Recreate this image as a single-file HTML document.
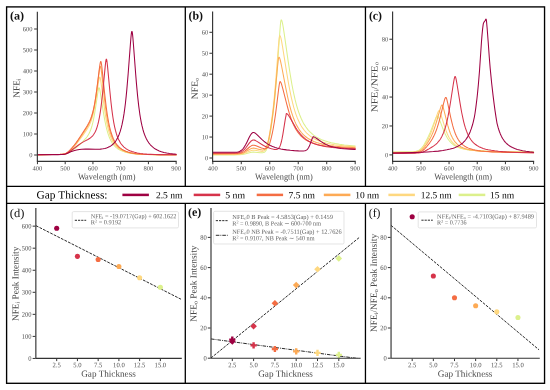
<!DOCTYPE html>
<html lang="en"><head><meta charset="utf-8"><title>NFE vs gap thickness</title>
<style>html,body{margin:0;padding:0;background:#fff}svg{display:block}text{font-family:'Liberation Serif', 'DejaVu Serif', serif}</style></head>
<body>
<svg width="550" height="390" viewBox="0 0 550 390" font-family="Liberation Serif, DejaVu Serif, serif">
<rect x="0" y="0" width="550" height="390" fill="#fff"/>
<rect x="6.6" y="6.9" width="537.95" height="376.4" fill="none" stroke="#000" stroke-width="1.35"/>
<line x1="6.6" y1="186.4" x2="544.55" y2="186.4" stroke="#000" stroke-width="1.3"/>
<line x1="6.6" y1="203.4" x2="544.55" y2="203.4" stroke="#000" stroke-width="1.3"/>
<line x1="185.3" y1="6.9" x2="185.3" y2="186.4" stroke="#000" stroke-width="1.3"/>
<line x1="185.3" y1="203.4" x2="185.3" y2="383.3" stroke="#000" stroke-width="1.3"/>
<line x1="365.45" y1="6.9" x2="365.45" y2="186.4" stroke="#000" stroke-width="1.3"/>
<line x1="365.45" y1="203.4" x2="365.45" y2="383.3" stroke="#000" stroke-width="1.3"/>
<text x="36.6" y="198.5" font-size="11.2" fill="#000" textLength="70.9" lengthAdjust="spacingAndGlyphs" transform="rotate(0.04 36.6 198.5)">Gap Thickness:</text>
<line x1="122.4" y1="194.9" x2="148.9" y2="194.9" stroke="#9e0142" stroke-width="2.5"/>
<text x="155.9" y="198.3" font-size="9.5" fill="#000" textLength="26.5" lengthAdjust="spacingAndGlyphs" transform="rotate(0.04 155.9 198.3)">2.5 nm</text>
<line x1="193.7" y1="194.9" x2="220.2" y2="194.9" stroke="#d6334a" stroke-width="2.5"/>
<text x="225.2" y="198.3" font-size="9.5" fill="#000" textLength="19.8" lengthAdjust="spacingAndGlyphs" transform="rotate(0.04 225.2 198.3)">5 nm</text>
<line x1="256.7" y1="194.9" x2="283.1" y2="194.9" stroke="#f46d43" stroke-width="2.5"/>
<text x="288.5" y="198.3" font-size="9.5" fill="#000" textLength="26.5" lengthAdjust="spacingAndGlyphs" transform="rotate(0.04 288.5 198.3)">7.5 nm</text>
<line x1="323.8" y1="194.9" x2="350.4" y2="194.9" stroke="#fdaa55" stroke-width="2.5"/>
<text x="355.2" y="198.3" font-size="9.5" fill="#000" textLength="24" lengthAdjust="spacingAndGlyphs" transform="rotate(0.04 355.2 198.3)">10 nm</text>
<line x1="388.4" y1="194.9" x2="414.9" y2="194.9" stroke="#fed880" stroke-width="2.5"/>
<text x="420.8" y="198.3" font-size="9.5" fill="#000" textLength="30.8" lengthAdjust="spacingAndGlyphs" transform="rotate(0.04 420.8 198.3)">12.5 nm</text>
<line x1="458.7" y1="194.9" x2="485.3" y2="194.9" stroke="#dcf08c" stroke-width="2.5"/>
<text x="490" y="198.3" font-size="9.5" fill="#000" textLength="24.2" lengthAdjust="spacingAndGlyphs" transform="rotate(0.04 490 198.3)">15 nm</text>
<text x="9.9" y="19.6" font-size="12" fill="#111" font-weight="bold" textLength="14.2" lengthAdjust="spacingAndGlyphs" transform="rotate(0.04 9.9 19.6)">(a)</text>
<text x="188.5" y="19.6" font-size="12" fill="#111" font-weight="bold" textLength="14.5" lengthAdjust="spacingAndGlyphs" transform="rotate(0.04 188.5 19.6)">(b)</text>
<text x="368.9" y="19.6" font-size="12" fill="#111" font-weight="bold" textLength="13.1" lengthAdjust="spacingAndGlyphs" transform="rotate(0.04 368.9 19.6)">(c)</text>
<text x="9.8" y="217" font-size="12" fill="#111" textLength="14.6" lengthAdjust="spacingAndGlyphs" transform="rotate(0.04 9.8 217)">(d)</text>
<text x="188" y="215.9" font-size="12" fill="#111" font-weight="bold" textLength="13.4" lengthAdjust="spacingAndGlyphs" transform="rotate(0.04 188 215.9)">(e)</text>
<text x="368.8" y="216.7" font-size="12" fill="#111" textLength="11.7" lengthAdjust="spacingAndGlyphs" transform="rotate(0.04 368.8 216.7)">(f)</text>
<path d="M37.45 154.68 L52.98 154.59 L60.75 154.46 L62.69 154.37 L64.08 154.22 L65.19 154.03 L66.30 153.73 L67.13 153.42 L67.96 153.05 L69.91 151.99 L72.68 150.22 L75.18 148.42 L77.40 146.63 L79.89 144.40 L82.39 142.01 L84.61 139.71 L86.00 138.13 L87.10 136.70 L88.21 135.03 L89.05 133.55 L89.88 131.81 L90.71 129.76 L91.54 127.31 L92.10 125.42 L92.93 122.13 L93.48 119.60 L94.59 113.70 L95.43 108.58 L97.65 93.63 L98.20 90.22 L98.48 88.86 L98.76 87.96 L99.03 87.70 L99.31 88.08 L99.59 88.94 L100.14 91.67 L103.19 111.10 L104.03 116.07 L104.86 120.62 L105.97 125.92 L106.52 128.25 L107.35 131.37 L108.19 134.09 L109.02 136.44 L109.85 138.47 L110.96 140.78 L112.07 142.71 L113.18 144.32 L114.57 145.98 L115.95 147.33 L117.34 148.45 L119.01 149.54 L120.95 150.56 L122.89 151.36 L125.11 152.09 L127.60 152.73 L130.38 153.27 L133.15 153.66 L135.93 153.96 L139.26 154.21 L142.86 154.40 L147.30 154.55 L158.12 154.71 L176.15 154.77" fill="none" stroke="#dcf08c" stroke-width="1.05" stroke-linejoin="round" stroke-linecap="round"/>
<path d="M37.45 154.65 L51.60 154.55 L59.64 154.43 L62.69 154.26 L63.80 154.11 L64.91 153.87 L66.02 153.48 L67.13 152.91 L68.24 152.15 L69.63 151.01 L71.57 149.20 L73.51 147.22 L75.18 145.38 L76.84 143.39 L79.06 140.52 L82.11 136.34 L85.44 131.63 L87.38 128.70 L88.49 126.83 L89.60 124.65 L90.43 122.74 L91.27 120.52 L92.10 117.92 L92.93 114.87 L93.76 111.29 L94.32 108.59 L94.87 105.63 L95.70 100.73 L98.76 80.78 L99.31 78.00 L99.59 77.21 L99.86 77.06 L100.14 77.58 L100.42 78.71 L100.97 82.15 L104.03 105.64 L105.41 115.08 L106.52 121.42 L107.08 124.20 L107.91 127.89 L108.74 131.08 L109.57 133.84 L110.41 136.23 L111.52 138.93 L112.63 141.17 L113.73 143.05 L115.12 144.99 L116.51 146.56 L117.90 147.86 L119.56 149.11 L121.22 150.12 L123.17 151.06 L125.39 151.90 L127.60 152.54 L130.10 153.09 L132.88 153.54 L135.65 153.88 L138.98 154.16 L142.58 154.37 L146.75 154.52 L157.56 154.70 L176.15 154.77" fill="none" stroke="#fed880" stroke-width="1.05" stroke-linejoin="round" stroke-linecap="round"/>
<path d="M37.45 154.63 L52.15 154.52 L59.92 154.38 L61.58 154.30 L62.97 154.17 L64.08 153.98 L65.19 153.68 L66.02 153.34 L66.58 153.05 L67.69 152.32 L69.07 151.16 L70.46 149.81 L72.40 147.76 L74.34 145.53 L76.01 143.44 L77.95 140.82 L80.45 137.21 L84.61 130.97 L86.55 127.96 L87.94 125.66 L89.05 123.59 L90.16 121.13 L90.99 118.97 L91.82 116.44 L92.65 113.47 L93.48 109.98 L94.32 105.88 L94.87 102.77 L95.43 99.37 L96.26 93.73 L99.31 70.70 L99.86 67.48 L100.14 66.57 L100.42 66.38 L100.70 66.99 L100.97 68.32 L101.53 72.38 L104.30 97.42 L105.69 108.65 L106.80 116.21 L107.35 119.50 L108.19 123.87 L109.02 127.63 L109.85 130.87 L110.68 133.66 L111.79 136.79 L112.90 139.38 L114.01 141.53 L114.57 142.47 L115.40 143.74 L116.79 145.53 L118.17 146.99 L119.01 147.74 L119.84 148.41 L121.50 149.55 L123.44 150.60 L125.66 151.53 L127.88 152.25 L130.38 152.87 L133.15 153.38 L135.93 153.76 L139.26 154.08 L142.86 154.31 L147.02 154.48 L157.84 154.69 L176.15 154.77" fill="none" stroke="#fdaa55" stroke-width="1.05" stroke-linejoin="round" stroke-linecap="round"/>
<path d="M37.45 154.62 L52.15 154.51 L59.92 154.36 L61.58 154.28 L62.97 154.14 L64.08 153.95 L65.19 153.63 L66.02 153.28 L66.58 152.97 L67.69 152.21 L69.07 150.98 L70.46 149.57 L72.40 147.40 L74.34 145.05 L76.01 142.85 L77.95 140.09 L80.17 136.74 L86.00 127.72 L87.38 125.50 L88.49 123.59 L89.60 121.39 L90.71 118.79 L91.54 116.47 L92.38 113.76 L93.21 110.56 L94.04 106.79 L94.87 102.36 L95.43 99.01 L95.98 95.35 L96.81 89.29 L99.31 69.17 L99.86 65.05 L100.14 63.32 L100.42 62.05 L100.70 61.45 L100.97 61.67 L101.25 62.72 L101.53 64.44 L101.81 66.61 L104.86 95.58 L106.25 107.26 L107.35 115.07 L107.91 118.46 L108.74 122.97 L109.57 126.84 L110.41 130.17 L111.24 133.03 L112.35 136.25 L113.46 138.91 L114.57 141.13 L115.68 142.98 L117.06 144.90 L118.45 146.46 L119.28 147.26 L120.12 147.97 L121.78 149.19 L123.72 150.31 L124.83 150.84 L125.94 151.30 L128.16 152.07 L130.66 152.73 L133.43 153.28 L136.20 153.68 L139.53 154.02 L143.14 154.27 L147.30 154.46 L152.02 154.59 L158.12 154.68 L176.15 154.77" fill="none" stroke="#f46d43" stroke-width="1.05" stroke-linejoin="round" stroke-linecap="round"/>
<path d="M37.45 154.65 L53.54 154.56 L60.75 154.44 L62.42 154.35 L63.80 154.20 L64.91 153.99 L66.02 153.65 L67.41 153.01 L69.07 151.97 L71.85 149.97 L78.51 145.01 L81.28 143.09 L83.78 141.61 L87.94 139.50 L89.88 138.29 L90.99 137.44 L91.82 136.69 L92.65 135.81 L93.48 134.76 L94.59 133.03 L95.43 131.42 L96.26 129.47 L97.09 127.10 L97.92 124.21 L98.48 121.95 L99.31 117.96 L99.86 114.84 L100.42 111.32 L100.97 107.36 L101.81 100.59 L102.92 90.12 L105.41 64.35 L105.69 61.98 L105.97 60.14 L106.25 59.14 L106.52 59.21 L106.80 60.30 L107.08 62.21 L107.63 67.36 L109.85 91.05 L110.96 101.98 L111.79 109.16 L112.35 113.42 L112.90 117.26 L113.73 122.30 L114.57 126.55 L115.40 130.14 L116.23 133.17 L117.06 135.74 L117.90 137.93 L119.01 140.36 L120.12 142.36 L121.22 144.01 L122.61 145.70 L124.00 147.08 L125.66 148.41 L126.50 148.97 L127.60 149.64 L128.71 150.22 L129.82 150.73 L132.04 151.59 L134.54 152.33 L137.31 152.97 L140.09 153.44 L143.14 153.82 L146.75 154.14 L150.63 154.36 L155.07 154.52 L160.34 154.63 L176.15 154.75" fill="none" stroke="#d6334a" stroke-width="1.05" stroke-linejoin="round" stroke-linecap="round"/>
<path d="M37.45 154.68 L57.98 154.60 L61.03 154.54 L62.97 154.43 L64.64 154.21 L65.47 154.02 L66.30 153.77 L67.69 153.21 L71.29 151.56 L72.40 151.14 L73.79 150.68 L76.56 149.97 L79.34 149.47 L81.83 149.22 L85.44 149.09 L88.49 149.11 L95.15 149.28 L97.92 149.26 L100.42 149.13 L102.92 148.82 L104.86 148.43 L106.52 147.95 L108.19 147.31 L109.85 146.48 L111.24 145.60 L112.63 144.51 L114.01 143.15 L115.12 141.84 L115.95 140.69 L116.51 139.83 L117.34 138.38 L117.90 137.29 L119.01 134.76 L120.12 131.68 L121.22 127.89 L122.06 124.46 L123.17 118.93 L124.00 113.90 L124.83 107.99 L125.39 103.48 L126.22 95.82 L126.77 90.08 L128.16 73.70 L130.38 44.54 L130.93 37.78 L131.21 34.90 L131.49 32.68 L131.77 31.46 L132.04 31.46 L132.32 32.68 L132.60 34.90 L132.88 37.79 L133.43 44.55 L135.65 73.73 L136.48 83.90 L137.59 95.89 L138.70 105.90 L139.81 114.05 L140.37 117.52 L141.20 122.06 L142.03 125.93 L142.86 129.23 L143.69 132.06 L144.53 134.49 L145.36 136.60 L146.47 138.99 L147.58 140.99 L148.96 143.07 L150.35 144.78 L151.18 145.66 L152.02 146.46 L153.68 147.82 L155.34 148.95 L157.29 150.04 L159.23 150.92 L161.45 151.73 L163.94 152.45 L166.72 153.06 L169.49 153.51 L172.54 153.88 L176.15 154.17" fill="none" stroke="#9e0142" stroke-width="1.05" stroke-linejoin="round" stroke-linecap="round"/>
<path d="M212.80 154.86 L234.44 154.85 L237.58 154.80 L239.86 154.70 L241.85 154.52 L243.84 154.21 L245.84 153.76 L250.39 152.51 L251.82 152.25 L252.96 152.14 L253.81 152.13 L254.95 152.19 L260.36 152.77 L261.50 152.82 L262.36 152.80 L263.49 152.60 L264.06 152.39 L264.63 152.06 L265.20 151.57 L265.49 151.25 L266.06 150.42 L266.34 149.89 L266.91 148.59 L267.20 147.80 L267.77 145.92 L268.62 142.35 L269.48 137.96 L270.61 131.18 L271.75 123.61 L272.89 115.22 L273.75 108.17 L274.60 100.25 L275.17 94.39 L276.31 81.15 L277.45 65.98 L279.44 37.21 L280.30 25.83 L280.58 22.86 L280.87 20.79 L281.15 19.90 L281.44 20.00 L281.72 20.46 L282.01 21.25 L282.58 23.64 L283.15 26.77 L284.28 34.10 L288.27 61.82 L289.98 73.04 L291.12 79.93 L291.97 84.74 L292.83 89.23 L293.97 94.73 L295.11 99.67 L296.25 104.10 L297.39 108.07 L298.52 111.61 L299.66 114.76 L301.09 118.24 L302.51 121.27 L303.37 122.89 L304.22 124.39 L305.93 127.05 L307.64 129.33 L308.49 130.34 L309.63 131.59 L311.63 133.49 L312.76 134.45 L313.90 135.33 L316.18 136.87 L318.75 138.32 L321.59 139.65 L324.73 140.85 L327.86 141.84 L331.28 142.73 L335.26 143.58 L339.54 144.31 L344.38 144.97 L349.50 145.53 L355.20 146.03" fill="none" stroke="#dcf08c" stroke-width="1.05" stroke-linejoin="round" stroke-linecap="round"/>
<path d="M212.80 154.44 L234.44 154.42 L237.58 154.36 L239.86 154.20 L242.13 153.87 L244.13 153.36 L246.12 152.64 L250.11 150.93 L251.53 150.49 L252.67 150.29 L253.81 150.24 L254.95 150.34 L259.22 151.09 L260.93 151.32 L262.07 151.36 L262.92 151.27 L263.78 151.00 L264.35 150.66 L264.63 150.43 L265.20 149.81 L265.77 148.93 L266.34 147.74 L266.63 147.01 L267.20 145.25 L268.05 141.87 L268.91 137.68 L269.76 132.82 L270.90 125.55 L271.75 119.53 L272.61 112.88 L273.46 105.45 L274.03 99.99 L275.17 87.68 L276.31 73.71 L278.30 47.79 L278.87 41.10 L279.16 38.38 L279.44 36.48 L279.73 35.62 L280.01 35.72 L280.30 36.15 L280.58 36.88 L280.87 37.88 L281.44 40.46 L282.58 46.89 L286.56 71.86 L288.56 83.61 L289.70 89.72 L290.55 93.96 L291.40 97.91 L292.54 102.73 L293.68 107.04 L294.82 110.89 L295.96 114.32 L297.10 117.38 L298.24 120.10 L299.66 123.09 L301.09 125.68 L302.51 127.93 L304.22 130.26 L305.93 132.25 L306.78 133.14 L307.92 134.22 L309.92 135.88 L312.20 137.48 L313.33 138.17 L314.76 138.96 L317.32 140.18 L320.17 141.31 L323.30 142.33 L326.72 143.23 L330.42 144.02 L334.41 144.72 L338.97 145.35 L343.81 145.89 L349.22 146.37 L355.20 146.79" fill="none" stroke="#fed880" stroke-width="1.05" stroke-linejoin="round" stroke-linecap="round"/>
<path d="M212.80 154.02 L233.88 154.00 L237.01 153.93 L239.29 153.76 L240.43 153.60 L241.56 153.37 L242.70 153.05 L243.84 152.64 L244.70 152.25 L245.84 151.66 L248.97 149.76 L250.11 149.11 L251.25 148.60 L252.39 148.26 L253.53 148.14 L254.67 148.24 L255.80 148.47 L260.36 149.64 L261.50 149.84 L262.64 149.93 L263.49 149.84 L264.35 149.52 L264.92 149.13 L265.20 148.86 L265.77 148.14 L266.34 147.13 L266.63 146.51 L267.20 145.00 L267.77 143.13 L268.62 139.65 L269.19 136.94 L270.04 132.39 L270.90 127.32 L271.75 121.72 L272.61 115.51 L273.18 110.95 L274.32 100.74 L275.17 92.15 L277.16 70.54 L278.02 61.90 L278.30 59.60 L278.59 58.00 L278.87 57.20 L279.16 57.29 L279.44 57.66 L279.73 58.30 L280.01 59.15 L280.58 61.34 L281.72 66.75 L285.71 87.53 L287.42 95.89 L288.56 100.99 L289.41 104.53 L290.27 107.82 L291.40 111.81 L292.54 115.38 L293.68 118.56 L294.82 121.39 L295.96 123.89 L297.10 126.12 L298.52 128.56 L299.95 130.67 L301.37 132.50 L303.08 134.38 L303.94 135.22 L305.08 136.23 L307.07 137.78 L309.06 139.08 L311.34 140.33 L313.90 141.49 L316.47 142.45 L319.32 143.33 L322.45 144.13 L325.87 144.83 L329.57 145.46 L333.84 146.03 L338.40 146.52 L343.52 146.96 L348.93 147.32 L355.20 147.66" fill="none" stroke="#fdaa55" stroke-width="1.05" stroke-linejoin="round" stroke-linecap="round"/>
<path d="M212.80 153.60 L234.44 153.57 L237.58 153.43 L238.72 153.31 L239.86 153.13 L241.00 152.85 L241.85 152.58 L242.99 152.09 L243.84 151.62 L244.70 151.08 L245.84 150.23 L249.25 147.27 L250.39 146.39 L251.25 145.86 L251.82 145.58 L252.67 145.31 L253.24 145.22 L254.10 145.25 L255.24 145.51 L256.66 146.01 L261.50 147.90 L262.92 148.36 L264.06 148.63 L265.20 148.72 L266.06 148.58 L266.63 148.35 L266.91 148.17 L267.48 147.68 L268.05 146.97 L268.34 146.51 L268.91 145.40 L269.48 143.99 L270.04 142.30 L270.61 140.33 L271.47 136.94 L272.32 133.08 L273.18 128.77 L274.32 122.22 L275.46 114.59 L276.31 108.14 L278.59 89.53 L279.16 85.26 L279.44 83.50 L279.73 82.26 L280.01 81.59 L280.30 81.67 L280.58 81.96 L280.87 82.45 L281.15 83.10 L281.72 84.78 L282.86 88.88 L286.56 103.43 L288.27 109.75 L289.41 113.61 L290.27 116.28 L291.12 118.76 L292.26 121.77 L293.40 124.45 L294.54 126.83 L295.68 128.94 L296.82 130.80 L297.96 132.46 L299.38 134.26 L300.80 135.82 L302.23 137.17 L303.94 138.56 L305.64 139.74 L307.64 140.91 L309.63 141.88 L311.91 142.82 L314.47 143.68 L317.04 144.40 L319.88 145.05 L323.02 145.64 L326.44 146.16 L330.14 146.62 L334.12 147.02 L338.68 147.39 L343.52 147.70 L348.93 147.98 L355.20 148.23" fill="none" stroke="#f46d43" stroke-width="1.05" stroke-linejoin="round" stroke-linecap="round"/>
<path d="M212.80 152.97 L230.17 152.97 L234.44 152.92 L236.15 152.85 L237.58 152.71 L238.72 152.53 L239.86 152.24 L241.00 151.82 L241.85 151.38 L242.99 150.63 L243.84 149.91 L244.70 149.06 L245.84 147.75 L249.25 143.17 L250.39 141.81 L251.25 140.98 L251.82 140.55 L252.67 140.13 L253.24 140.00 L253.81 140.00 L254.38 140.11 L254.95 140.31 L255.52 140.59 L256.94 141.41 L261.50 144.28 L263.49 145.44 L266.06 146.76 L268.62 147.83 L270.04 148.33 L271.47 148.75 L272.89 149.10 L274.32 149.36 L275.46 149.47 L276.31 149.45 L277.16 149.28 L277.73 149.04 L278.30 148.66 L278.87 148.08 L279.44 147.25 L279.73 146.72 L280.30 145.39 L280.58 144.58 L281.44 141.50 L282.01 138.91 L282.86 134.31 L285.14 120.14 L285.71 117.01 L285.99 115.86 L286.28 113.51 L286.56 113.53 L286.85 113.63 L287.42 114.05 L287.99 114.68 L288.56 115.47 L289.98 117.75 L294.25 125.11 L295.96 127.92 L297.10 129.68 L298.24 131.32 L300.23 133.89 L301.37 135.20 L302.51 136.38 L303.65 137.46 L304.79 138.44 L305.93 139.32 L307.35 140.31 L308.78 141.18 L310.20 141.95 L311.91 142.77 L313.62 143.47 L315.33 144.09 L317.32 144.71 L319.32 145.25 L321.59 145.78 L323.87 146.23 L326.44 146.66 L329.28 147.06 L332.13 147.40 L338.68 148.00 L346.37 148.49 L355.20 148.88" fill="none" stroke="#d6334a" stroke-width="1.05" stroke-linejoin="round" stroke-linecap="round"/>
<path d="M212.80 152.34 L230.17 152.34 L234.44 152.27 L236.15 152.15 L237.58 151.95 L238.72 151.67 L239.86 151.23 L241.00 150.57 L241.85 149.91 L242.99 148.75 L243.84 147.65 L244.70 146.36 L245.84 144.34 L246.69 142.66 L249.25 137.32 L250.11 135.72 L250.68 134.78 L251.53 133.62 L252.10 133.05 L252.67 132.66 L252.96 132.54 L253.53 132.44 L253.81 132.46 L254.38 132.64 L254.95 132.95 L255.52 133.37 L256.94 134.63 L261.79 139.30 L263.78 141.07 L265.20 142.22 L266.34 143.06 L267.48 143.83 L268.91 144.70 L270.33 145.47 L272.04 146.27 L273.46 146.86 L275.17 147.46 L276.88 147.98 L278.87 148.50 L280.87 148.94 L283.15 149.36 L286.56 149.86 L290.27 150.28 L294.25 150.61 L298.52 150.86 L301.37 150.96 L303.37 150.93 L304.79 150.77 L305.36 150.63 L305.93 150.41 L306.78 149.89 L307.35 149.36 L308.21 148.23 L308.78 147.24 L309.35 146.04 L309.92 144.68 L312.20 138.55 L312.48 137.93 L312.76 137.50 L313.05 136.72 L313.33 136.74 L313.90 136.88 L314.47 137.12 L315.33 137.60 L316.75 138.53 L321.59 141.86 L323.30 142.93 L324.73 143.74 L326.15 144.47 L327.86 145.23 L329.57 145.89 L331.28 146.45 L333.56 147.08 L335.83 147.59 L338.40 148.05 L340.96 148.42 L343.81 148.76 L347.23 149.08 L350.93 149.34 L355.20 149.58" fill="none" stroke="#9e0142" stroke-width="1.05" stroke-linejoin="round" stroke-linecap="round"/>
<path d="M392.70 152.02 L407.35 151.86 L411.30 151.74 L413.83 151.57 L415.81 151.31 L416.65 151.12 L417.50 150.87 L418.34 150.53 L418.91 150.25 L419.75 149.72 L420.32 149.28 L421.16 148.50 L421.73 147.89 L422.29 147.20 L423.13 146.05 L423.98 144.77 L424.83 143.37 L426.52 140.29 L428.49 136.27 L430.18 132.40 L431.59 128.90 L434.69 120.86 L435.82 118.15 L436.38 117.03 L436.66 116.59 L436.94 116.28 L437.22 116.11 L437.51 116.03 L437.79 116.20 L438.07 116.55 L438.35 117.02 L438.92 118.23 L439.76 120.35 L442.86 128.57 L443.99 131.35 L444.83 133.26 L446.24 136.10 L447.09 137.59 L447.93 138.92 L449.06 140.49 L450.19 141.83 L451.31 142.98 L452.72 144.20 L454.13 145.20 L455.54 146.05 L456.95 146.75 L458.64 147.46 L460.61 148.13 L462.59 148.67 L464.84 149.16 L467.38 149.61 L469.91 149.97 L473.01 150.31 L476.39 150.60 L480.06 150.84 L488.79 151.24 L500.07 151.53 L514.44 151.74 L533.60 151.89" fill="none" stroke="#dcf08c" stroke-width="1.05" stroke-linejoin="round" stroke-linecap="round"/>
<path d="M392.70 152.31 L408.20 152.15 L412.14 152.03 L414.68 151.85 L416.65 151.55 L417.50 151.34 L418.34 151.06 L419.19 150.69 L419.75 150.38 L420.60 149.80 L421.16 149.34 L422.01 148.53 L422.85 147.57 L423.70 146.48 L424.83 144.84 L425.95 143.04 L427.08 141.07 L428.21 138.93 L429.05 137.20 L430.74 133.32 L432.43 128.82 L433.84 124.64 L436.66 115.81 L437.79 112.57 L438.35 111.35 L438.63 110.95 L438.92 110.74 L439.20 110.68 L439.48 110.92 L439.76 111.37 L440.04 111.98 L440.61 113.53 L444.27 125.45 L445.96 130.43 L447.37 133.95 L448.21 135.78 L449.06 137.41 L450.19 139.30 L451.31 140.90 L452.44 142.26 L453.57 143.41 L454.98 144.62 L456.39 145.62 L457.80 146.45 L459.49 147.27 L461.46 148.04 L463.43 148.66 L465.69 149.22 L467.94 149.66 L470.48 150.07 L473.58 150.45 L476.68 150.75 L480.34 151.03 L484.57 151.27 L489.08 151.47 L500.07 151.78 L514.44 152.01 L533.60 152.16" fill="none" stroke="#fed880" stroke-width="1.05" stroke-linejoin="round" stroke-linecap="round"/>
<path d="M392.70 152.60 L409.33 152.43 L413.27 152.30 L415.81 152.10 L417.78 151.76 L418.63 151.52 L419.47 151.21 L420.32 150.80 L421.16 150.27 L421.73 149.85 L422.57 149.12 L423.70 147.96 L424.83 146.61 L426.23 144.72 L427.64 142.65 L429.05 140.38 L430.18 138.37 L431.31 136.14 L432.15 134.29 L433.00 132.26 L433.84 130.04 L435.25 125.90 L436.66 121.27 L439.48 111.30 L440.61 107.56 L441.17 106.06 L441.45 105.51 L441.73 105.16 L442.01 105.01 L442.30 105.17 L442.58 105.63 L443.14 107.20 L443.99 110.34 L446.81 121.72 L447.93 125.90 L448.78 128.74 L449.62 131.30 L450.47 133.58 L451.31 135.59 L452.16 137.35 L453.29 139.37 L454.41 141.06 L455.54 142.48 L456.67 143.68 L458.08 144.92 L459.49 145.94 L461.18 146.93 L462.87 147.73 L464.84 148.47 L466.81 149.07 L469.07 149.61 L471.60 150.09 L474.42 150.51 L477.52 150.86 L481.19 151.18 L485.13 151.45 L489.64 151.67 L500.35 152.02 L514.44 152.27 L533.60 152.44" fill="none" stroke="#fdaa55" stroke-width="1.05" stroke-linejoin="round" stroke-linecap="round"/>
<path d="M392.70 153.03 L403.97 152.95 L411.02 152.85 L414.96 152.71 L417.50 152.47 L418.63 152.28 L419.75 152.00 L420.60 151.70 L421.44 151.32 L422.29 150.83 L423.13 150.23 L423.98 149.53 L425.11 148.43 L426.80 146.53 L428.49 144.44 L429.90 142.56 L431.31 140.50 L432.43 138.67 L433.56 136.61 L434.69 134.27 L435.53 132.30 L436.38 130.11 L437.22 127.70 L438.63 123.13 L440.32 116.82 L443.42 104.09 L444.27 100.80 L444.83 98.93 L445.11 98.20 L445.40 97.67 L445.68 97.40 L445.96 97.40 L446.24 97.76 L446.52 98.45 L446.81 99.38 L447.65 102.94 L450.75 117.52 L451.88 122.36 L452.72 125.63 L453.57 128.56 L454.41 131.17 L455.26 133.47 L456.11 135.49 L457.23 137.80 L458.36 139.74 L459.49 141.36 L460.61 142.74 L462.02 144.16 L463.43 145.33 L464.84 146.29 L466.53 147.24 L468.50 148.13 L470.48 148.84 L472.73 149.48 L475.27 150.05 L477.80 150.50 L480.90 150.93 L484.28 151.29 L487.95 151.59 L492.18 151.86 L496.97 152.09 L502.60 152.29 L515.85 152.58 L533.60 152.79" fill="none" stroke="#f46d43" stroke-width="1.05" stroke-linejoin="round" stroke-linecap="round"/>
<path d="M392.70 153.35 L407.92 153.28 L414.96 153.17 L416.93 153.09 L418.63 152.96 L420.03 152.78 L421.44 152.49 L423.13 151.96 L423.98 151.61 L425.11 151.07 L428.21 149.33 L432.43 146.81 L434.12 145.66 L435.82 144.33 L437.22 143.01 L438.63 141.44 L439.76 139.95 L440.89 138.20 L442.01 136.14 L442.86 134.34 L443.71 132.29 L444.55 129.96 L445.40 127.29 L446.24 124.25 L447.09 120.80 L447.93 116.91 L449.34 109.40 L450.75 100.78 L453.29 84.23 L454.13 79.32 L454.41 78.04 L454.70 77.10 L454.98 76.59 L455.26 76.59 L455.54 77.06 L455.82 77.94 L456.39 80.57 L457.23 85.52 L460.05 103.19 L460.90 108.15 L461.74 112.74 L463.15 119.48 L463.71 121.84 L464.56 125.05 L465.40 127.89 L466.53 131.15 L467.38 133.26 L468.50 135.69 L469.63 137.74 L470.76 139.48 L472.17 141.31 L473.58 142.82 L475.27 144.30 L476.96 145.51 L478.93 146.65 L480.90 147.56 L483.16 148.41 L485.69 149.16 L488.23 149.76 L491.33 150.34 L494.71 150.83 L498.38 151.24 L502.60 151.61 L507.39 151.92 L512.75 152.19 L518.66 152.41 L533.60 152.77" fill="none" stroke="#d6334a" stroke-width="1.05" stroke-linejoin="round" stroke-linecap="round"/>
<path d="M392.70 153.06 L403.41 152.87 L412.71 152.64 L420.60 152.35 L427.36 152.01 L433.28 151.59 L438.35 151.11 L442.86 150.53 L446.81 149.85 L450.19 149.09 L453.29 148.17 L454.70 147.67 L456.11 147.09 L457.51 146.43 L458.64 145.83 L459.77 145.16 L460.90 144.40 L462.02 143.53 L462.87 142.81 L464.00 141.71 L464.84 140.79 L465.69 139.76 L466.53 138.61 L467.94 136.36 L469.07 134.21 L470.19 131.67 L471.32 128.64 L472.45 125.02 L473.29 121.83 L474.42 116.80 L474.99 113.48 L475.83 107.62 L476.96 98.51 L477.52 93.34 L478.37 84.53 L479.49 70.99 L481.47 41.73 L482.03 34.85 L482.59 29.10 L483.16 24.64 L483.44 23.31 L483.72 22.64 L484.00 22.14 L484.85 21.00 L485.69 19.46 L485.98 19.16 L486.26 19.45 L486.54 21.60 L487.10 27.71 L488.23 42.54 L489.36 58.22 L490.20 68.38 L491.61 82.68 L493.02 95.11 L494.15 104.07 L494.99 110.31 L496.12 117.92 L496.97 123.02 L498.09 127.38 L498.66 129.26 L499.50 131.76 L500.35 133.92 L501.47 136.38 L502.60 138.44 L504.01 140.57 L505.42 142.31 L506.83 143.75 L508.52 145.17 L509.37 145.78 L510.49 146.50 L512.47 147.56 L514.72 148.54 L517.26 149.40 L519.79 150.09 L522.61 150.70 L525.99 151.27 L529.65 151.76 L533.60 152.16" fill="none" stroke="#9e0142" stroke-width="1.05" stroke-linejoin="round" stroke-linecap="round"/>
<path d="M37.35 12.3 V161.4 H176.15" fill="none" stroke="#333333" stroke-width="1.15" stroke-linecap="square"/>
<line x1="34.15" y1="155" x2="36.95" y2="155" stroke="#333333" stroke-width="1.0"/>
<text x="32.55" y="157.3" font-size="6.5" fill="#505050" text-anchor="end" textLength="3.27" lengthAdjust="spacingAndGlyphs" transform="rotate(0.04 32.55 157.3)">0</text>
<line x1="34.15" y1="134" x2="36.95" y2="134" stroke="#333333" stroke-width="1.0"/>
<text x="32.55" y="136.3" font-size="6.5" fill="#505050" text-anchor="end" textLength="9.81" lengthAdjust="spacingAndGlyphs" transform="rotate(0.04 32.55 136.3)">100</text>
<line x1="34.15" y1="113" x2="36.95" y2="113" stroke="#333333" stroke-width="1.0"/>
<text x="32.55" y="115.3" font-size="6.5" fill="#505050" text-anchor="end" textLength="9.81" lengthAdjust="spacingAndGlyphs" transform="rotate(0.04 32.55 115.3)">200</text>
<line x1="34.15" y1="92" x2="36.95" y2="92" stroke="#333333" stroke-width="1.0"/>
<text x="32.55" y="94.3" font-size="6.5" fill="#505050" text-anchor="end" textLength="9.81" lengthAdjust="spacingAndGlyphs" transform="rotate(0.04 32.55 94.3)">300</text>
<line x1="34.15" y1="71" x2="36.95" y2="71" stroke="#333333" stroke-width="1.0"/>
<text x="32.55" y="73.3" font-size="6.5" fill="#505050" text-anchor="end" textLength="9.81" lengthAdjust="spacingAndGlyphs" transform="rotate(0.04 32.55 73.3)">400</text>
<line x1="34.15" y1="50" x2="36.95" y2="50" stroke="#333333" stroke-width="1.0"/>
<text x="32.55" y="52.3" font-size="6.5" fill="#505050" text-anchor="end" textLength="9.81" lengthAdjust="spacingAndGlyphs" transform="rotate(0.04 32.55 52.3)">500</text>
<line x1="34.15" y1="29" x2="36.95" y2="29" stroke="#333333" stroke-width="1.0"/>
<text x="32.55" y="31.3" font-size="6.5" fill="#505050" text-anchor="end" textLength="9.81" lengthAdjust="spacingAndGlyphs" transform="rotate(0.04 32.55 31.3)">600</text>
<line x1="37.45" y1="161.8" x2="37.45" y2="164.2" stroke="#333333" stroke-width="1.0"/>
<text x="37.45" y="170.4" font-size="6.5" fill="#505050" text-anchor="middle" textLength="9.9" lengthAdjust="spacingAndGlyphs" transform="rotate(0.04 37.45 170.4)">400</text>
<line x1="65.19" y1="161.8" x2="65.19" y2="164.2" stroke="#333333" stroke-width="1.0"/>
<text x="65.19" y="170.4" font-size="6.5" fill="#505050" text-anchor="middle" textLength="9.9" lengthAdjust="spacingAndGlyphs" transform="rotate(0.04 65.19 170.4)">500</text>
<line x1="92.93" y1="161.8" x2="92.93" y2="164.2" stroke="#333333" stroke-width="1.0"/>
<text x="92.93" y="170.4" font-size="6.5" fill="#505050" text-anchor="middle" textLength="9.9" lengthAdjust="spacingAndGlyphs" transform="rotate(0.04 92.93 170.4)">600</text>
<line x1="120.67" y1="161.8" x2="120.67" y2="164.2" stroke="#333333" stroke-width="1.0"/>
<text x="120.67" y="170.4" font-size="6.5" fill="#505050" text-anchor="middle" textLength="9.9" lengthAdjust="spacingAndGlyphs" transform="rotate(0.04 120.67 170.4)">700</text>
<line x1="148.41" y1="161.8" x2="148.41" y2="164.2" stroke="#333333" stroke-width="1.0"/>
<text x="148.41" y="170.4" font-size="6.5" fill="#505050" text-anchor="middle" textLength="9.9" lengthAdjust="spacingAndGlyphs" transform="rotate(0.04 148.41 170.4)">800</text>
<line x1="176.15" y1="161.8" x2="176.15" y2="164.2" stroke="#333333" stroke-width="1.0"/>
<text x="176.15" y="170.4" font-size="6.5" fill="#505050" text-anchor="middle" textLength="9.9" lengthAdjust="spacingAndGlyphs" transform="rotate(0.04 176.15 170.4)">900</text>
<path d="M212.6 12 V161.4 H355.2" fill="none" stroke="#333333" stroke-width="1.15" stroke-linecap="square"/>
<line x1="209.4" y1="158" x2="212.2" y2="158" stroke="#333333" stroke-width="1.0"/>
<text x="208.3" y="160.3" font-size="6.5" fill="#505050" text-anchor="end" textLength="3.27" lengthAdjust="spacingAndGlyphs" transform="rotate(0.04 208.3 160.3)">0</text>
<line x1="209.4" y1="137.05" x2="212.2" y2="137.05" stroke="#333333" stroke-width="1.0"/>
<text x="208.3" y="139.35" font-size="6.5" fill="#505050" text-anchor="end" textLength="6.54" lengthAdjust="spacingAndGlyphs" transform="rotate(0.04 208.3 139.35)">10</text>
<line x1="209.4" y1="116.1" x2="212.2" y2="116.1" stroke="#333333" stroke-width="1.0"/>
<text x="208.3" y="118.4" font-size="6.5" fill="#505050" text-anchor="end" textLength="6.54" lengthAdjust="spacingAndGlyphs" transform="rotate(0.04 208.3 118.4)">20</text>
<line x1="209.4" y1="95.15" x2="212.2" y2="95.15" stroke="#333333" stroke-width="1.0"/>
<text x="208.3" y="97.45" font-size="6.5" fill="#505050" text-anchor="end" textLength="6.54" lengthAdjust="spacingAndGlyphs" transform="rotate(0.04 208.3 97.45)">30</text>
<line x1="209.4" y1="74.2" x2="212.2" y2="74.2" stroke="#333333" stroke-width="1.0"/>
<text x="208.3" y="76.5" font-size="6.5" fill="#505050" text-anchor="end" textLength="6.54" lengthAdjust="spacingAndGlyphs" transform="rotate(0.04 208.3 76.5)">40</text>
<line x1="209.4" y1="53.25" x2="212.2" y2="53.25" stroke="#333333" stroke-width="1.0"/>
<text x="208.3" y="55.55" font-size="6.5" fill="#505050" text-anchor="end" textLength="6.54" lengthAdjust="spacingAndGlyphs" transform="rotate(0.04 208.3 55.55)">50</text>
<line x1="209.4" y1="32.3" x2="212.2" y2="32.3" stroke="#333333" stroke-width="1.0"/>
<text x="208.3" y="34.6" font-size="6.5" fill="#505050" text-anchor="end" textLength="6.54" lengthAdjust="spacingAndGlyphs" transform="rotate(0.04 208.3 34.6)">60</text>
<line x1="212.8" y1="161.8" x2="212.8" y2="164.2" stroke="#333333" stroke-width="1.0"/>
<text x="212.8" y="170.4" font-size="6.5" fill="#505050" text-anchor="middle" textLength="9.9" lengthAdjust="spacingAndGlyphs" transform="rotate(0.04 212.8 170.4)">400</text>
<line x1="241.28" y1="161.8" x2="241.28" y2="164.2" stroke="#333333" stroke-width="1.0"/>
<text x="241.28" y="170.4" font-size="6.5" fill="#505050" text-anchor="middle" textLength="9.9" lengthAdjust="spacingAndGlyphs" transform="rotate(0.04 241.28 170.4)">500</text>
<line x1="269.76" y1="161.8" x2="269.76" y2="164.2" stroke="#333333" stroke-width="1.0"/>
<text x="269.76" y="170.4" font-size="6.5" fill="#505050" text-anchor="middle" textLength="9.9" lengthAdjust="spacingAndGlyphs" transform="rotate(0.04 269.76 170.4)">600</text>
<line x1="298.24" y1="161.8" x2="298.24" y2="164.2" stroke="#333333" stroke-width="1.0"/>
<text x="298.24" y="170.4" font-size="6.5" fill="#505050" text-anchor="middle" textLength="9.9" lengthAdjust="spacingAndGlyphs" transform="rotate(0.04 298.24 170.4)">700</text>
<line x1="326.72" y1="161.8" x2="326.72" y2="164.2" stroke="#333333" stroke-width="1.0"/>
<text x="326.72" y="170.4" font-size="6.5" fill="#505050" text-anchor="middle" textLength="9.9" lengthAdjust="spacingAndGlyphs" transform="rotate(0.04 326.72 170.4)">800</text>
<line x1="355.2" y1="161.8" x2="355.2" y2="164.2" stroke="#333333" stroke-width="1.0"/>
<text x="355.2" y="170.4" font-size="6.5" fill="#505050" text-anchor="middle" textLength="9.9" lengthAdjust="spacingAndGlyphs" transform="rotate(0.04 355.2 170.4)">900</text>
<path d="M392.6 12 V161.4 H533.6" fill="none" stroke="#333333" stroke-width="1.15" stroke-linecap="square"/>
<line x1="389.4" y1="154.9" x2="392.2" y2="154.9" stroke="#333333" stroke-width="1.0"/>
<text x="388.3" y="157.2" font-size="6.5" fill="#505050" text-anchor="end" textLength="3.27" lengthAdjust="spacingAndGlyphs" transform="rotate(0.04 388.3 157.2)">0</text>
<line x1="389.4" y1="125.98" x2="392.2" y2="125.98" stroke="#333333" stroke-width="1.0"/>
<text x="388.3" y="128.28" font-size="6.5" fill="#505050" text-anchor="end" textLength="6.54" lengthAdjust="spacingAndGlyphs" transform="rotate(0.04 388.3 128.28)">20</text>
<line x1="389.4" y1="97.06" x2="392.2" y2="97.06" stroke="#333333" stroke-width="1.0"/>
<text x="388.3" y="99.36" font-size="6.5" fill="#505050" text-anchor="end" textLength="6.54" lengthAdjust="spacingAndGlyphs" transform="rotate(0.04 388.3 99.36)">40</text>
<line x1="389.4" y1="68.14" x2="392.2" y2="68.14" stroke="#333333" stroke-width="1.0"/>
<text x="388.3" y="70.44" font-size="6.5" fill="#505050" text-anchor="end" textLength="6.54" lengthAdjust="spacingAndGlyphs" transform="rotate(0.04 388.3 70.44)">60</text>
<line x1="389.4" y1="39.22" x2="392.2" y2="39.22" stroke="#333333" stroke-width="1.0"/>
<text x="388.3" y="41.52" font-size="6.5" fill="#505050" text-anchor="end" textLength="6.54" lengthAdjust="spacingAndGlyphs" transform="rotate(0.04 388.3 41.52)">80</text>
<line x1="392.7" y1="161.8" x2="392.7" y2="164.2" stroke="#333333" stroke-width="1.0"/>
<text x="392.7" y="170.4" font-size="6.5" fill="#505050" text-anchor="middle" textLength="9.9" lengthAdjust="spacingAndGlyphs" transform="rotate(0.04 392.7 170.4)">400</text>
<line x1="420.88" y1="161.8" x2="420.88" y2="164.2" stroke="#333333" stroke-width="1.0"/>
<text x="420.88" y="170.4" font-size="6.5" fill="#505050" text-anchor="middle" textLength="9.9" lengthAdjust="spacingAndGlyphs" transform="rotate(0.04 420.88 170.4)">500</text>
<line x1="449.06" y1="161.8" x2="449.06" y2="164.2" stroke="#333333" stroke-width="1.0"/>
<text x="449.06" y="170.4" font-size="6.5" fill="#505050" text-anchor="middle" textLength="9.9" lengthAdjust="spacingAndGlyphs" transform="rotate(0.04 449.06 170.4)">600</text>
<line x1="477.24" y1="161.8" x2="477.24" y2="164.2" stroke="#333333" stroke-width="1.0"/>
<text x="477.24" y="170.4" font-size="6.5" fill="#505050" text-anchor="middle" textLength="9.9" lengthAdjust="spacingAndGlyphs" transform="rotate(0.04 477.24 170.4)">700</text>
<line x1="505.42" y1="161.8" x2="505.42" y2="164.2" stroke="#333333" stroke-width="1.0"/>
<text x="505.42" y="170.4" font-size="6.5" fill="#505050" text-anchor="middle" textLength="9.9" lengthAdjust="spacingAndGlyphs" transform="rotate(0.04 505.42 170.4)">800</text>
<line x1="533.6" y1="161.8" x2="533.6" y2="164.2" stroke="#333333" stroke-width="1.0"/>
<text x="533.6" y="170.4" font-size="6.5" fill="#505050" text-anchor="middle" textLength="9.9" lengthAdjust="spacingAndGlyphs" transform="rotate(0.04 533.6 170.4)">900</text>
<text x="106.75" y="179.6" font-size="8.8" fill="#484848" text-anchor="middle" textLength="57.6" lengthAdjust="spacingAndGlyphs" transform="rotate(0.04 106.75 179.6)">Wavelength (nm)</text>
<text x="283.9" y="179.6" font-size="8.8" fill="#484848" text-anchor="middle" textLength="57.6" lengthAdjust="spacingAndGlyphs" transform="rotate(0.04 283.9 179.6)">Wavelength (nm)</text>
<text x="463.1" y="179.6" font-size="8.8" fill="#484848" text-anchor="middle" textLength="57.6" lengthAdjust="spacingAndGlyphs" transform="rotate(0.04 463.1 179.6)">Wavelength (nm)</text>
<text x="19.4" y="97.7" font-size="9.4" fill="#484848" textLength="19.2" lengthAdjust="spacingAndGlyphs" transform="rotate(-89.96 19.4 97.7)">NFE<tspan dy="1.1" font-size="6.0">i</tspan></text>
<text x="197.7" y="99.2" font-size="9.4" fill="#484848" textLength="21.5" lengthAdjust="spacingAndGlyphs" transform="rotate(-89.96 197.7 99.2)">NFE<tspan dy="1.1" font-size="6.0">o</tspan></text>
<text x="377.5" y="112.3" font-size="9.4" fill="#484848" textLength="50.5" lengthAdjust="spacingAndGlyphs" transform="rotate(-89.96 377.5 112.3)">NFE<tspan dy="1.1" font-size="6.0">i</tspan><tspan dy="-1.1">/NFE</tspan><tspan dy="1.1" font-size="6.0">o</tspan></text>
<defs><clipPath id="cd"><rect x="35.85" y="208.6" width="145.35" height="149.7"/></clipPath><clipPath id="ce"><rect x="211" y="208.6" width="149.1" height="149.65"/></clipPath><clipPath id="cf"><rect x="391.05" y="208.6" width="148.15" height="149.65"/></clipPath></defs>
<line x1="35.95" y1="225.67" x2="181.11" y2="299.27" stroke="#2a2a2a" stroke-width="1.0" stroke-dasharray="2.8 1.2" clip-path="url(#cd)"/>
<circle cx="56.69" cy="228.24" r="2.55" fill="#9e0142"/>
<circle cx="77.43" cy="256.36" r="2.55" fill="#d6334a"/>
<circle cx="98.16" cy="259.45" r="2.55" fill="#f46d43"/>
<circle cx="118.9" cy="266.5" r="2.55" fill="#fdaa55"/>
<circle cx="139.64" cy="277.75" r="2.55" fill="#fed880"/>
<circle cx="160.38" cy="287.23" r="2.55" fill="#dcf08c"/>
<rect x="72.2" y="211.6" width="106.3" height="16.3" rx="1.3" fill="#fff" fill-opacity="0.8" stroke="#d9d9d9" stroke-width="0.7"/>
<line x1="74.8" y1="220.3" x2="86.2" y2="220.3" stroke="#222" stroke-width="0.95" stroke-dasharray="2.2 1.0"/>
<text x="90.7" y="218.2" font-size="6.3" fill="#5e5e5e" textLength="85.6" lengthAdjust="spacingAndGlyphs" transform="rotate(0.04 90.7 218.2)">NFE<tspan dy="0.9" font-size="4.3">i</tspan><tspan dy="-0.9"> = -19.0717(Gap) + 602.1622</tspan></text>
<text x="90.7" y="224.3" font-size="6.3" fill="#5e5e5e" textLength="30.6" lengthAdjust="spacingAndGlyphs" transform="rotate(0.04 90.7 224.3)">R<tspan dy="-1.9" font-size="4.2">2</tspan><tspan dy="1.9"> = 0.9192</tspan></text>
<line x1="211" y1="357.98" x2="360.1" y2="236.81" stroke="#2a2a2a" stroke-width="1.0" stroke-dasharray="2.8 1.2" clip-path="url(#ce)"/>
<line x1="211" y1="338.93" x2="360.1" y2="358.78" stroke="#2a2a2a" stroke-width="1.0" stroke-dasharray="3.6 1 0.9 1" clip-path="url(#ce)"/>
<path d="M232.3 338.14 L235.6 341.44 L232.3 344.74 L229 341.44 Z" fill="#9e0142"/>
<path d="M253.6 322.89 L256.9 326.19 L253.6 329.49 L250.3 326.19 Z" fill="#d6334a"/>
<path d="M274.9 299.94 L278.2 303.24 L274.9 306.54 L271.6 303.24 Z" fill="#f46d43"/>
<path d="M296.2 281.82 L299.5 285.12 L296.2 288.42 L292.9 285.12 Z" fill="#fdaa55"/>
<path d="M317.5 265.96 L320.8 269.26 L317.5 272.56 L314.2 269.26 Z" fill="#fed880"/>
<path d="M338.8 255.09 L342.1 258.39 L338.8 261.69 L335.5 258.39 Z" fill="#dcf08c"/>
<path d="M231.1 336.53 H233.5 V338.43 H235.4 V340.83 H233.5 V342.73 H231.1 V340.83 H229.2 V338.43 H231.1 Z" fill="#9e0142"/>
<path d="M252.4 342.26 H254.8 V344.17 H256.7 V346.56 H254.8 V348.47 H252.4 V346.56 H250.5 V344.17 H252.4 Z" fill="#d6334a"/>
<path d="M273.7 345.89 H276.1 V347.79 H278 V350.19 H276.1 V352.09 H273.7 V350.19 H271.8 V347.79 H273.7 Z" fill="#f46d43"/>
<path d="M295 348.3 H297.4 V350.2 H299.3 V352.6 H297.4 V354.5 H295 V352.6 H293.1 V350.2 H295 Z" fill="#fdaa55"/>
<path d="M316.3 349.81 H318.7 V351.71 H320.6 V354.11 H318.7 V356.01 H316.3 V354.11 H314.4 V351.71 H316.3 Z" fill="#fed880"/>
<path d="M337.6 351.78 H340 V353.68 H341.9 V356.08 H340 V357.98 H337.6 V356.08 H335.7 V353.68 H337.6 Z" fill="#dcf08c"/>
<rect x="213.6" y="211.3" width="130.4" height="32.7" rx="1.3" fill="#fff" fill-opacity="0.8" stroke="#d9d9d9" stroke-width="0.7"/>
<line x1="215.8" y1="220.65" x2="227.7" y2="220.65" stroke="#222" stroke-width="0.95" stroke-dasharray="2.2 1.0"/>
<line x1="215.8" y1="235.3" x2="227.7" y2="235.3" stroke="#222" stroke-width="0.95" stroke-dasharray="3.6 1 0.9 1"/>
<text x="232.3" y="218.9" font-size="6.3" fill="#5e5e5e" textLength="100.7" lengthAdjust="spacingAndGlyphs" transform="rotate(0.04 232.3 218.9)">NFE<tspan dy="0.9" font-size="4.3">o</tspan><tspan dy="-0.9">0 B Peak = 4.5853(Gap) + 0.1459</tspan></text>
<text x="232.3" y="225.5" font-size="6.3" fill="#5e5e5e" textLength="88.7" lengthAdjust="spacingAndGlyphs" transform="rotate(0.04 232.3 225.5)">R<tspan dy="-1.9" font-size="4.2">2</tspan><tspan dy="1.9"> = 0.9890, B Peak ∼ 600-700 nm</tspan></text>
<text x="232.3" y="233.7" font-size="6.3" fill="#5e5e5e" textLength="109.4" lengthAdjust="spacingAndGlyphs" transform="rotate(0.04 232.3 233.7)">NFE<tspan dy="0.9" font-size="4.3">o</tspan><tspan dy="-0.9">0 NB Peak = -0.7511(Gap) + 12.7626</tspan></text>
<text x="232.3" y="240.3" font-size="6.3" fill="#5e5e5e" textLength="82.2" lengthAdjust="spacingAndGlyphs" transform="rotate(0.04 232.3 240.3)">R<tspan dy="-1.9" font-size="4.2">2</tspan><tspan dy="1.9"> = 0.9107, NB Peak ∼ 540 nm</tspan></text>
<line x1="391.05" y1="225.4" x2="539.1" y2="349.87" stroke="#2a2a2a" stroke-width="1.0" stroke-dasharray="2.8 1.2" clip-path="url(#cf)"/>
<circle cx="412.2" cy="216.71" r="2.55" fill="#9e0142"/>
<circle cx="433.35" cy="276.06" r="2.55" fill="#d6334a"/>
<circle cx="454.5" cy="297.8" r="2.55" fill="#f46d43"/>
<circle cx="475.65" cy="305.8" r="2.55" fill="#fdaa55"/>
<circle cx="496.8" cy="311.84" r="2.55" fill="#fed880"/>
<circle cx="517.95" cy="317.43" r="2.55" fill="#dcf08c"/>
<rect x="418.2" y="211.9" width="118.3" height="16" rx="1.3" fill="#fff" fill-opacity="0.8" stroke="#d9d9d9" stroke-width="0.7"/>
<line x1="421.4" y1="220.2" x2="432.8" y2="220.2" stroke="#222" stroke-width="0.95" stroke-dasharray="2.2 1.0"/>
<text x="437.1" y="218.4" font-size="6.3" fill="#5e5e5e" textLength="96.9" lengthAdjust="spacingAndGlyphs" transform="rotate(0.04 437.1 218.4)">NFE<tspan dy="0.9" font-size="4.3">i</tspan><tspan dy="-0.9">/NFE</tspan><tspan dy="0.9" font-size="4.3">o</tspan><tspan dy="-0.9"> = -4.7103(Gap) + 87.9489</tspan></text>
<text x="437.1" y="224.6" font-size="6.3" fill="#5e5e5e" textLength="29.4" lengthAdjust="spacingAndGlyphs" transform="rotate(0.04 437.1 224.6)">R<tspan dy="-1.9" font-size="4.2">2</tspan><tspan dy="1.9"> = 0.7736</tspan></text>
<path d="M35.85 208.6 V358.3 H181.2" fill="none" stroke="#333333" stroke-width="1.15" stroke-linecap="square"/>
<line x1="32.65" y1="358.45" x2="35.45" y2="358.45" stroke="#333333" stroke-width="1.0"/>
<text x="31.55" y="360.75" font-size="6.9" fill="#505050" text-anchor="end" textLength="3.27" lengthAdjust="spacingAndGlyphs" transform="rotate(0.04 31.55 360.75)">0</text>
<line x1="32.65" y1="336.4" x2="35.45" y2="336.4" stroke="#333333" stroke-width="1.0"/>
<text x="31.55" y="338.7" font-size="6.9" fill="#505050" text-anchor="end" textLength="9.81" lengthAdjust="spacingAndGlyphs" transform="rotate(0.04 31.55 338.7)">100</text>
<line x1="32.65" y1="314.35" x2="35.45" y2="314.35" stroke="#333333" stroke-width="1.0"/>
<text x="31.55" y="316.65" font-size="6.9" fill="#505050" text-anchor="end" textLength="9.81" lengthAdjust="spacingAndGlyphs" transform="rotate(0.04 31.55 316.65)">200</text>
<line x1="32.65" y1="292.3" x2="35.45" y2="292.3" stroke="#333333" stroke-width="1.0"/>
<text x="31.55" y="294.6" font-size="6.9" fill="#505050" text-anchor="end" textLength="9.81" lengthAdjust="spacingAndGlyphs" transform="rotate(0.04 31.55 294.6)">300</text>
<line x1="32.65" y1="270.25" x2="35.45" y2="270.25" stroke="#333333" stroke-width="1.0"/>
<text x="31.55" y="272.55" font-size="6.9" fill="#505050" text-anchor="end" textLength="9.81" lengthAdjust="spacingAndGlyphs" transform="rotate(0.04 31.55 272.55)">400</text>
<line x1="32.65" y1="248.2" x2="35.45" y2="248.2" stroke="#333333" stroke-width="1.0"/>
<text x="31.55" y="250.5" font-size="6.9" fill="#505050" text-anchor="end" textLength="9.81" lengthAdjust="spacingAndGlyphs" transform="rotate(0.04 31.55 250.5)">500</text>
<line x1="32.65" y1="226.15" x2="35.45" y2="226.15" stroke="#333333" stroke-width="1.0"/>
<text x="31.55" y="228.45" font-size="6.9" fill="#505050" text-anchor="end" textLength="9.81" lengthAdjust="spacingAndGlyphs" transform="rotate(0.04 31.55 228.45)">600</text>
<line x1="56.69" y1="358.7" x2="56.69" y2="361.1" stroke="#333333" stroke-width="1.0"/>
<text x="56.69" y="367.3" font-size="6.9" fill="#505050" text-anchor="middle" textLength="8.3" lengthAdjust="spacingAndGlyphs" transform="rotate(0.04 56.69 367.3)">2.5</text>
<line x1="77.43" y1="358.7" x2="77.43" y2="361.1" stroke="#333333" stroke-width="1.0"/>
<text x="77.43" y="367.3" font-size="6.9" fill="#505050" text-anchor="middle" textLength="8.3" lengthAdjust="spacingAndGlyphs" transform="rotate(0.04 77.43 367.3)">5.0</text>
<line x1="98.16" y1="358.7" x2="98.16" y2="361.1" stroke="#333333" stroke-width="1.0"/>
<text x="98.16" y="367.3" font-size="6.9" fill="#505050" text-anchor="middle" textLength="8.3" lengthAdjust="spacingAndGlyphs" transform="rotate(0.04 98.16 367.3)">7.5</text>
<line x1="118.9" y1="358.7" x2="118.9" y2="361.1" stroke="#333333" stroke-width="1.0"/>
<text x="118.9" y="367.3" font-size="6.9" fill="#505050" text-anchor="middle" textLength="11.6" lengthAdjust="spacingAndGlyphs" transform="rotate(0.04 118.9 367.3)">10.0</text>
<line x1="139.64" y1="358.7" x2="139.64" y2="361.1" stroke="#333333" stroke-width="1.0"/>
<text x="139.64" y="367.3" font-size="6.9" fill="#505050" text-anchor="middle" textLength="11.6" lengthAdjust="spacingAndGlyphs" transform="rotate(0.04 139.64 367.3)">12.5</text>
<line x1="160.38" y1="358.7" x2="160.38" y2="361.1" stroke="#333333" stroke-width="1.0"/>
<text x="160.38" y="367.3" font-size="6.9" fill="#505050" text-anchor="middle" textLength="11.6" lengthAdjust="spacingAndGlyphs" transform="rotate(0.04 160.38 367.3)">15.0</text>
<path d="M211 208.6 V358.25 H360.1" fill="none" stroke="#333333" stroke-width="1.15" stroke-linecap="square"/>
<line x1="207.8" y1="358.2" x2="210.6" y2="358.2" stroke="#333333" stroke-width="1.0"/>
<text x="206.7" y="360.5" font-size="6.9" fill="#505050" text-anchor="end" textLength="3.27" lengthAdjust="spacingAndGlyphs" transform="rotate(0.04 206.7 360.5)">0</text>
<line x1="207.8" y1="328" x2="210.6" y2="328" stroke="#333333" stroke-width="1.0"/>
<text x="206.7" y="330.3" font-size="6.9" fill="#505050" text-anchor="end" textLength="6.54" lengthAdjust="spacingAndGlyphs" transform="rotate(0.04 206.7 330.3)">20</text>
<line x1="207.8" y1="297.8" x2="210.6" y2="297.8" stroke="#333333" stroke-width="1.0"/>
<text x="206.7" y="300.1" font-size="6.9" fill="#505050" text-anchor="end" textLength="6.54" lengthAdjust="spacingAndGlyphs" transform="rotate(0.04 206.7 300.1)">40</text>
<line x1="207.8" y1="267.6" x2="210.6" y2="267.6" stroke="#333333" stroke-width="1.0"/>
<text x="206.7" y="269.9" font-size="6.9" fill="#505050" text-anchor="end" textLength="6.54" lengthAdjust="spacingAndGlyphs" transform="rotate(0.04 206.7 269.9)">60</text>
<line x1="207.8" y1="237.4" x2="210.6" y2="237.4" stroke="#333333" stroke-width="1.0"/>
<text x="206.7" y="239.7" font-size="6.9" fill="#505050" text-anchor="end" textLength="6.54" lengthAdjust="spacingAndGlyphs" transform="rotate(0.04 206.7 239.7)">80</text>
<line x1="232.3" y1="358.65" x2="232.3" y2="361.05" stroke="#333333" stroke-width="1.0"/>
<text x="232.3" y="367.25" font-size="6.9" fill="#505050" text-anchor="middle" textLength="8.3" lengthAdjust="spacingAndGlyphs" transform="rotate(0.04 232.3 367.25)">2.5</text>
<line x1="253.6" y1="358.65" x2="253.6" y2="361.05" stroke="#333333" stroke-width="1.0"/>
<text x="253.6" y="367.25" font-size="6.9" fill="#505050" text-anchor="middle" textLength="8.3" lengthAdjust="spacingAndGlyphs" transform="rotate(0.04 253.6 367.25)">5.0</text>
<line x1="274.9" y1="358.65" x2="274.9" y2="361.05" stroke="#333333" stroke-width="1.0"/>
<text x="274.9" y="367.25" font-size="6.9" fill="#505050" text-anchor="middle" textLength="8.3" lengthAdjust="spacingAndGlyphs" transform="rotate(0.04 274.9 367.25)">7.5</text>
<line x1="296.2" y1="358.65" x2="296.2" y2="361.05" stroke="#333333" stroke-width="1.0"/>
<text x="296.2" y="367.25" font-size="6.9" fill="#505050" text-anchor="middle" textLength="11.6" lengthAdjust="spacingAndGlyphs" transform="rotate(0.04 296.2 367.25)">10.0</text>
<line x1="317.5" y1="358.65" x2="317.5" y2="361.05" stroke="#333333" stroke-width="1.0"/>
<text x="317.5" y="367.25" font-size="6.9" fill="#505050" text-anchor="middle" textLength="11.6" lengthAdjust="spacingAndGlyphs" transform="rotate(0.04 317.5 367.25)">12.5</text>
<line x1="338.8" y1="358.65" x2="338.8" y2="361.05" stroke="#333333" stroke-width="1.0"/>
<text x="338.8" y="367.25" font-size="6.9" fill="#505050" text-anchor="middle" textLength="11.6" lengthAdjust="spacingAndGlyphs" transform="rotate(0.04 338.8 367.25)">15.0</text>
<path d="M391.05 208.6 V358.25 H539.2" fill="none" stroke="#333333" stroke-width="1.15" stroke-linecap="square"/>
<line x1="387.85" y1="358.2" x2="390.65" y2="358.2" stroke="#333333" stroke-width="1.0"/>
<text x="386.75" y="360.5" font-size="6.9" fill="#505050" text-anchor="end" textLength="3.27" lengthAdjust="spacingAndGlyphs" transform="rotate(0.04 386.75 360.5)">0</text>
<line x1="387.85" y1="328" x2="390.65" y2="328" stroke="#333333" stroke-width="1.0"/>
<text x="386.75" y="330.3" font-size="6.9" fill="#505050" text-anchor="end" textLength="6.54" lengthAdjust="spacingAndGlyphs" transform="rotate(0.04 386.75 330.3)">20</text>
<line x1="387.85" y1="297.8" x2="390.65" y2="297.8" stroke="#333333" stroke-width="1.0"/>
<text x="386.75" y="300.1" font-size="6.9" fill="#505050" text-anchor="end" textLength="6.54" lengthAdjust="spacingAndGlyphs" transform="rotate(0.04 386.75 300.1)">40</text>
<line x1="387.85" y1="267.6" x2="390.65" y2="267.6" stroke="#333333" stroke-width="1.0"/>
<text x="386.75" y="269.9" font-size="6.9" fill="#505050" text-anchor="end" textLength="6.54" lengthAdjust="spacingAndGlyphs" transform="rotate(0.04 386.75 269.9)">60</text>
<line x1="387.85" y1="237.4" x2="390.65" y2="237.4" stroke="#333333" stroke-width="1.0"/>
<text x="386.75" y="239.7" font-size="6.9" fill="#505050" text-anchor="end" textLength="6.54" lengthAdjust="spacingAndGlyphs" transform="rotate(0.04 386.75 239.7)">80</text>
<line x1="412.2" y1="358.65" x2="412.2" y2="361.05" stroke="#333333" stroke-width="1.0"/>
<text x="412.2" y="367.25" font-size="6.9" fill="#505050" text-anchor="middle" textLength="8.3" lengthAdjust="spacingAndGlyphs" transform="rotate(0.04 412.2 367.25)">2.5</text>
<line x1="433.35" y1="358.65" x2="433.35" y2="361.05" stroke="#333333" stroke-width="1.0"/>
<text x="433.35" y="367.25" font-size="6.9" fill="#505050" text-anchor="middle" textLength="8.3" lengthAdjust="spacingAndGlyphs" transform="rotate(0.04 433.35 367.25)">5.0</text>
<line x1="454.5" y1="358.65" x2="454.5" y2="361.05" stroke="#333333" stroke-width="1.0"/>
<text x="454.5" y="367.25" font-size="6.9" fill="#505050" text-anchor="middle" textLength="8.3" lengthAdjust="spacingAndGlyphs" transform="rotate(0.04 454.5 367.25)">7.5</text>
<line x1="475.65" y1="358.65" x2="475.65" y2="361.05" stroke="#333333" stroke-width="1.0"/>
<text x="475.65" y="367.25" font-size="6.9" fill="#505050" text-anchor="middle" textLength="11.6" lengthAdjust="spacingAndGlyphs" transform="rotate(0.04 475.65 367.25)">10.0</text>
<line x1="496.8" y1="358.65" x2="496.8" y2="361.05" stroke="#333333" stroke-width="1.0"/>
<text x="496.8" y="367.25" font-size="6.9" fill="#505050" text-anchor="middle" textLength="11.6" lengthAdjust="spacingAndGlyphs" transform="rotate(0.04 496.8 367.25)">12.5</text>
<line x1="517.95" y1="358.65" x2="517.95" y2="361.05" stroke="#333333" stroke-width="1.0"/>
<text x="517.95" y="367.25" font-size="6.9" fill="#505050" text-anchor="middle" textLength="11.6" lengthAdjust="spacingAndGlyphs" transform="rotate(0.04 517.95 367.25)">15.0</text>
<text x="108.52" y="376.7" font-size="9.3" fill="#484848" text-anchor="middle" textLength="54.6" lengthAdjust="spacingAndGlyphs" transform="rotate(0.04 108.52 376.7)">Gap Thickness</text>
<text x="285.55" y="376.7" font-size="9.3" fill="#484848" text-anchor="middle" textLength="54.6" lengthAdjust="spacingAndGlyphs" transform="rotate(0.04 285.55 376.7)">Gap Thickness</text>
<text x="465.12" y="376.7" font-size="9.3" fill="#484848" text-anchor="middle" textLength="54.6" lengthAdjust="spacingAndGlyphs" transform="rotate(0.04 465.12 376.7)">Gap Thickness</text>
<text x="18.4" y="321" font-size="9.4" fill="#484848" textLength="74.3" lengthAdjust="spacingAndGlyphs" transform="rotate(-89.96 18.4 321)">NFE<tspan dy="1.1" font-size="6.0">i</tspan><tspan dy="-1.1"> Peak Intensity</tspan></text>
<text x="196.5" y="321.7" font-size="9.4" fill="#484848" textLength="76.2" lengthAdjust="spacingAndGlyphs" transform="rotate(-89.96 196.5 321.7)">NFE<tspan dy="1.1" font-size="6.0">o</tspan><tspan dy="-1.1"> Peak Intensity</tspan></text>
<text x="376.8" y="331.9" font-size="9.4" fill="#484848" textLength="98" lengthAdjust="spacingAndGlyphs" transform="rotate(-89.96 376.8 331.9)">NFE<tspan dy="1.1" font-size="6.0">i</tspan><tspan dy="-1.1">/NFE</tspan><tspan dy="1.1" font-size="6.0">o</tspan><tspan dy="-1.1"> Peak Intensity</tspan></text>
</svg>
</body></html>
